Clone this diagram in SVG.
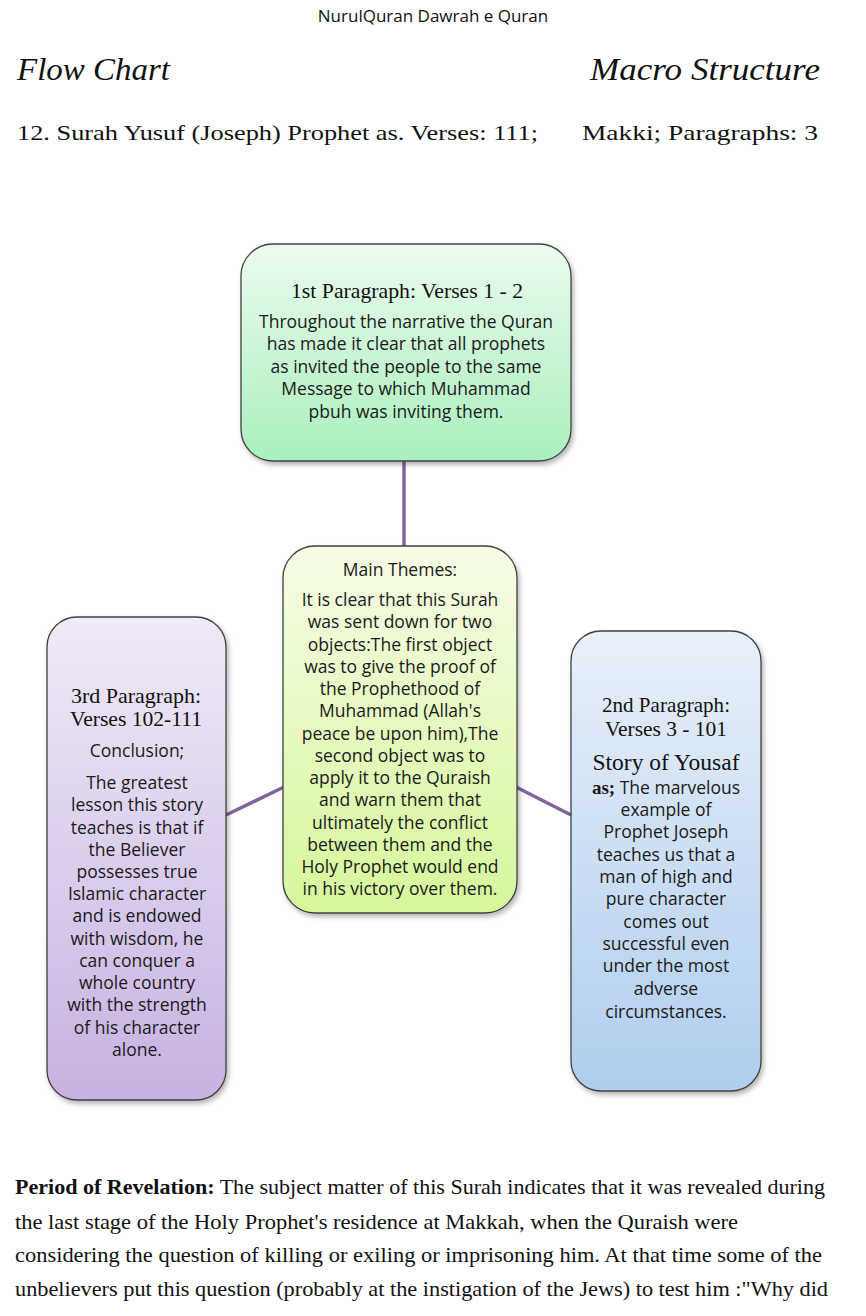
<svg xmlns="http://www.w3.org/2000/svg" width="866" height="1316" viewBox="0 0 866 1316">
<defs>
<style>
.hdr{font-family:"Open Sans","Liberation Sans",sans-serif;font-size:17px;fill:#111}
.ttl{font-family:"Liberation Serif",serif;font-style:italic;font-size:32px;fill:#111}
.sub{font-family:"Liberation Serif",serif;font-size:22px;fill:#111}
.bt{font-family:"Liberation Serif",serif;font-size:21px;fill:#111;text-anchor:middle}
.bd{font-family:"Open Sans","Liberation Sans",sans-serif;font-size:17.5px;fill:#1a1a1a;text-anchor:middle}
.par{font-family:"Liberation Serif",serif;font-size:21px;fill:#111}
.box{stroke:#404040;stroke-width:1.3}
.con{stroke:#8064a2;stroke-width:3.5;fill:none}
</style>
<linearGradient id="gGreen" x1="0" y1="0" x2="0" y2="1"><stop offset="0" stop-color="#ebfbee"/><stop offset="1" stop-color="#aaf0bd"/></linearGradient>
<linearGradient id="gLime" x1="0" y1="0" x2="0" y2="1"><stop offset="0" stop-color="#f6fce6"/><stop offset="1" stop-color="#d6f79a"/></linearGradient>
<linearGradient id="gPurple" x1="0" y1="0" x2="0" y2="1"><stop offset="0" stop-color="#f0ebf7"/><stop offset="1" stop-color="#c6b2e2"/></linearGradient>
<linearGradient id="gBlue" x1="0" y1="0" x2="0" y2="1"><stop offset="0" stop-color="#e9f0fa"/><stop offset="1" stop-color="#afcdee"/></linearGradient>
<filter id="sh" x="-10%" y="-10%" width="130%" height="130%"><feDropShadow dx="2" dy="3" stdDeviation="2.5" flood-color="#000" flood-opacity="0.3"/></filter>
</defs>
<rect width="866" height="1316" fill="#fff"/>
<g id="header">
<text class="hdr" x="433" y="22" text-anchor="middle">NurulQuran Dawrah e Quran</text>
<text class="ttl" x="17" y="80" textLength="153" lengthAdjust="spacingAndGlyphs">Flow Chart</text>
<text class="ttl" x="590" y="80" textLength="230" lengthAdjust="spacingAndGlyphs">Macro Structure</text>
<text class="sub" x="17" y="140" textLength="521" lengthAdjust="spacingAndGlyphs">12. Surah Yusuf (Joseph) Prophet as.  Verses: 111;</text>
<text class="sub" x="582" y="140" textLength="236" lengthAdjust="spacingAndGlyphs">Makki;   Paragraphs: 3</text>
</g>
<g id="connectors">
<line class="con" x1="404" y1="461" x2="404" y2="547"/>
<line class="con" x1="226" y1="815" x2="284" y2="787"/>
<line class="con" x1="516" y1="787" x2="571" y2="815"/>
</g>
<g id="node-p1">
<rect class="box" x="241" y="244" width="330" height="217" rx="32" fill="url(#gGreen)" filter="url(#sh)"/>
<text class="bt" x="407" y="298" textLength="232" lengthAdjust="spacingAndGlyphs">1st Paragraph: Verses 1 - 2</text>
<text class="bd" x="406" y="328">Throughout the narrative the Quran</text>
<text class="bd" x="406" y="350">has made it clear that all prophets</text>
<text class="bd" x="406" y="373">as invited the people to the same</text>
<text class="bd" x="406" y="395">Message to which Muhammad</text>
<text class="bd" x="406" y="418">pbuh was inviting them.</text>
</g>
<g id="node-main">
<rect class="box" x="283" y="546" width="234" height="367" rx="32" fill="url(#gLime)" filter="url(#sh)"/>
<text class="bd" x="400" y="576">Main Themes:</text>
<text class="bd" x="400" y="606">It is clear that this Surah</text>
<text class="bd" x="400" y="628">was sent down for two</text>
<text class="bd" x="400" y="651">objects:The first object</text>
<text class="bd" x="400" y="673">was to give the proof of</text>
<text class="bd" x="400" y="695">the Prophethood of</text>
<text class="bd" x="400" y="717">Muhammad (Allah's</text>
<text class="bd" x="400" y="740">peace be upon him),The</text>
<text class="bd" x="400" y="762">second object was to</text>
<text class="bd" x="400" y="784">apply it to the Quraish</text>
<text class="bd" x="400" y="806">and warn them that</text>
<text class="bd" x="400" y="829">ultimately the conflict</text>
<text class="bd" x="400" y="851">between them and the</text>
<text class="bd" x="400" y="873">Holy Prophet would end</text>
<text class="bd" x="400" y="895">in his victory over them.</text>
</g>
<g id="node-p3">
<rect class="box" x="47" y="617" width="179" height="483" rx="30" fill="url(#gPurple)" filter="url(#sh)"/>
<text class="bt" x="136" y="703" textLength="130" lengthAdjust="spacingAndGlyphs">3rd Paragraph:</text>
<text class="bt" x="136" y="726" textLength="132" lengthAdjust="spacingAndGlyphs">Verses 102-111</text>
<text class="bd" x="137" y="757">Conclusion;</text>
<text class="bd" x="137" y="789">The greatest</text>
<text class="bd" x="137" y="811">lesson this story</text>
<text class="bd" x="137" y="834">teaches is that if</text>
<text class="bd" x="137" y="856">the Believer</text>
<text class="bd" x="137" y="878">possesses true</text>
<text class="bd" x="137" y="900">Islamic character</text>
<text class="bd" x="137" y="922">and is endowed</text>
<text class="bd" x="137" y="945">with wisdom, he</text>
<text class="bd" x="137" y="967">can conquer a</text>
<text class="bd" x="137" y="989">whole country</text>
<text class="bd" x="137" y="1011">with the strength</text>
<text class="bd" x="137" y="1034">of his character</text>
<text class="bd" x="137" y="1056">alone.</text>
</g>
<g id="node-p2">
<rect class="box" x="571" y="631" width="190" height="460" rx="30" fill="url(#gBlue)" filter="url(#sh)"/>
<text class="bt" x="666" y="712" textLength="128" lengthAdjust="spacingAndGlyphs">2nd Paragraph:</text>
<text class="bt" x="666" y="736" textLength="122" lengthAdjust="spacingAndGlyphs">Verses 3 - 101</text>
<text class="bt" x="666" y="770" style="font-size:23px" textLength="147" lengthAdjust="spacingAndGlyphs">Story of Yousaf</text>
<text class="bd" x="666" y="794"><tspan style="font-family:'Liberation Serif',serif;font-weight:bold;font-size:19px">as;</tspan> The marvelous</text>
<text class="bd" x="666" y="816">example of</text>
<text class="bd" x="666" y="838">Prophet Joseph</text>
<text class="bd" x="666" y="861">teaches us that a</text>
<text class="bd" x="666" y="883">man of high and</text>
<text class="bd" x="666" y="905">pure character</text>
<text class="bd" x="666" y="928">comes out</text>
<text class="bd" x="666" y="950">successful even</text>
<text class="bd" x="666" y="972">under the most</text>
<text class="bd" x="666" y="995">adverse</text>
<text class="bd" x="666" y="1018">circumstances.</text>
</g>
<g id="footer">
<text class="par" x="15" y="1194" textLength="810" lengthAdjust="spacingAndGlyphs"><tspan font-weight="bold">Period of Revelation:</tspan> The subject matter of this Surah indicates that it was revealed during</text>
<text class="par" x="15" y="1229" textLength="723" lengthAdjust="spacingAndGlyphs">the last stage of the Holy Prophet's residence at Makkah, when the Quraish were</text>
<text class="par" x="15" y="1262" textLength="807" lengthAdjust="spacingAndGlyphs">considering the question of killing or exiling or imprisoning him. At that time some of the</text>
<text class="par" x="15" y="1296" textLength="813" lengthAdjust="spacingAndGlyphs">unbelievers put this question (probably at the instigation of the Jews) to test him :"Why did</text>
</g>
</svg>
